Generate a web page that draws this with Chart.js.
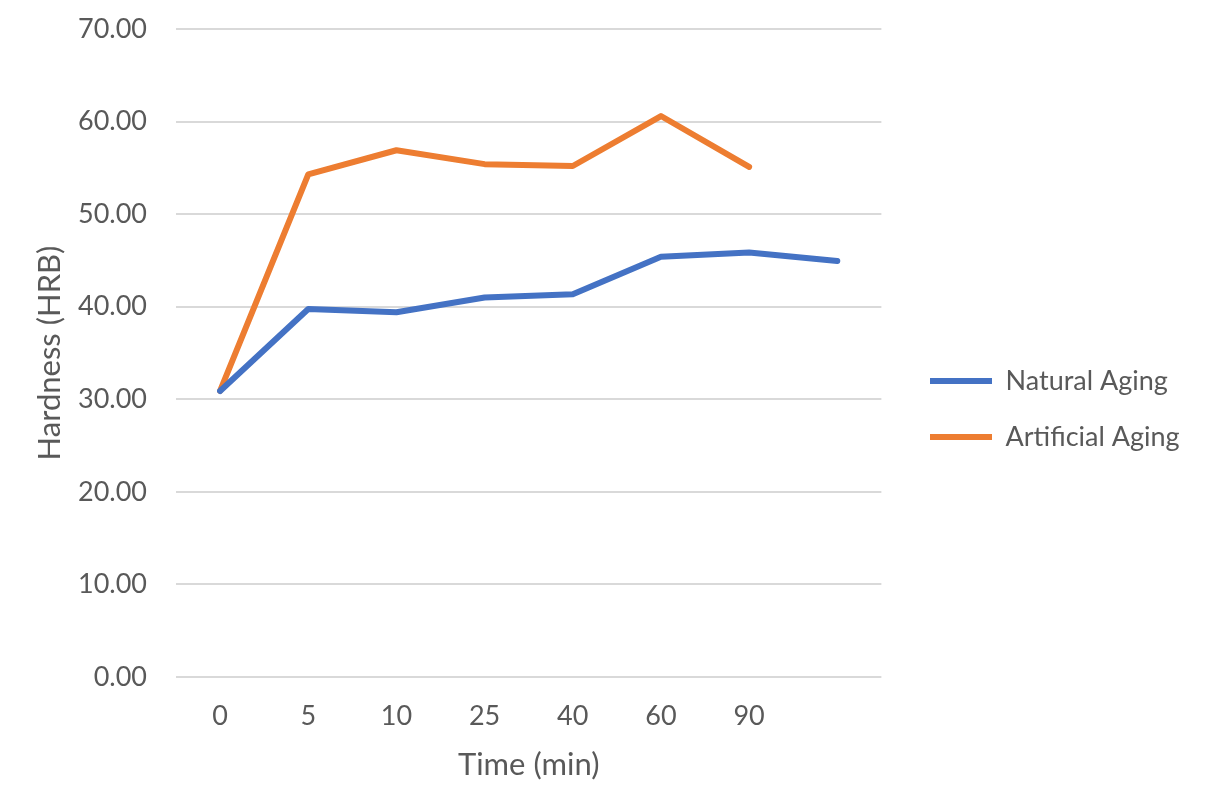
<!DOCTYPE html>
<html>
<head>
<meta charset="utf-8">
<script src="https://cdn.jsdelivr.net/npm/chart.js@4/dist/chart.umd.min.js"></script>
<style>
  html, body { margin: 0; padding: 0; background: #ffffff; }
  #wrap { width: 1205px; height: 809px; position: relative; }
</style>
</head>
<body>
<div id="wrap"><canvas id="c" width="1205" height="809"></canvas></div>
<script>
const categories = ['0', '5', '10', '25', '40', '60', '90', ''];
const naturalAging = [30.9, 39.75, 39.4, 41.0, 41.35, 45.4, 45.85, 44.95];
const artificialAging = [30.9, 54.3, 56.9, 55.4, 55.2, 60.6, 55.1, null];
const seriesNames = ['Natural Aging', 'Artificial Aging'];
const axisTitles = { x: 'Time (min)', y: 'Hardness (HRB)' };

const FONT = 'Lato, "Open Sans", sans-serif';
const TXT = '#595959';
const COLORS = ['#4472C4', '#ED7D31'];

// place the legend block where the reference has it (box left edge at x=930)
const legendShift = {
  id: 'legendShift',
  afterLayout(chart) {
    const lg = chart.legend;
    if (!lg) return;
    const dx = 930 - (lg.left + lg.options.labels.padding);
    lg.left += dx; lg.right += dx;
    lg.top -= 3.5; lg.bottom -= 3.5;
  }
};

new Chart(document.getElementById('c'), {
  type: 'line',
  data: {
    labels: categories,
    datasets: [
      { label: seriesNames[0], data: naturalAging, borderColor: COLORS[0], backgroundColor: COLORS[0],
        borderWidth: 6, pointRadius: 0, tension: 0, borderCapStyle: 'round', borderJoinStyle: 'round', spanGaps: false },
      { label: seriesNames[1], data: artificialAging, borderColor: COLORS[1], backgroundColor: COLORS[1],
        borderWidth: 6, pointRadius: 0, tension: 0, borderCapStyle: 'round', borderJoinStyle: 'round', spanGaps: false }
    ]
  },
  options: {
    responsive: false,
    animation: false,
    devicePixelRatio: 1,
    layout: { padding: { top: 29, right: 35, bottom: 13, left: 0 } },
    plugins: {
      tooltip: { enabled: false },
      legend: {
        position: 'right',
        labels: {
          color: TXT,
          font: { family: FONT, size: 27 },
          boxWidth: 62,
          boxHeight: 6,
          padding: 29,
          generateLabels(chart) {
            return chart.data.datasets.map((ds, i) => ({
              text: ds.label, fillStyle: ds.borderColor, strokeStyle: ds.borderColor,
              lineWidth: 0, fontColor: TXT, datasetIndex: i, hidden: false
            }));
          }
        }
      }
    },
    scales: {
      x: {
        offset: true,
        grid: { display: false, drawTicks: false },
        border: { display: false },
        ticks: { color: TXT, font: { family: FONT, size: 27 }, padding: 23, maxRotation: 0, autoSkip: false },
        title: { display: true, text: axisTitles.x, color: TXT, font: { family: FONT, size: 31 }, padding: { top: 14, bottom: 12 } },
        afterFit(scale) { scale.height = 119; }
      },
      y: {
        min: 0, max: 70,
        grid: { color: '#D9D9D9', lineWidth: 2, drawTicks: false },
        border: { display: false },
        ticks: { stepSize: 10, color: TXT, font: { family: FONT, size: 27 }, padding: 29,
                 callback: v => Number(v).toFixed(2) },
        title: { display: true, text: axisTitles.y, color: TXT, font: { family: FONT, size: 31 }, padding: { top: 31, bottom: 0 } },
        afterFit(scale) { scale.width = 176; scale.paddingTop = 15; scale.paddingBottom = 15; }
      }
    }
  },
  plugins: [legendShift]
});
</script>
</body>
</html>
